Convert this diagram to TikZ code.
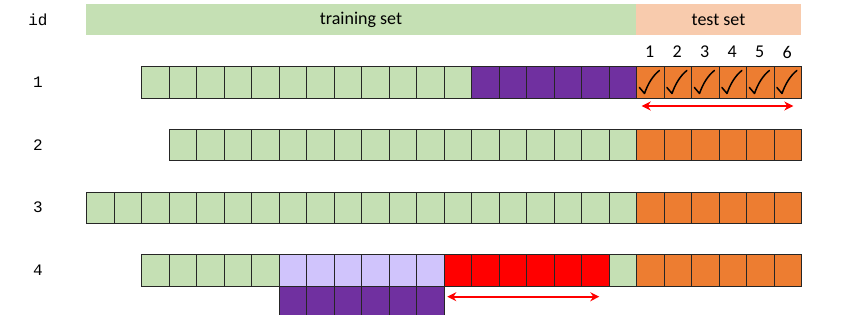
\documentclass[tikz,border=0pt]{standalone}
\usepackage{fontspec}
\setmainfont{Carlito}
\setmonofont{Liberation Mono}
\usetikzlibrary{arrows.meta}
\definecolor{verdeCelda}{HTML}{C5E0B4}
\definecolor{salmon}{HTML}{F8CBAD}
\definecolor{naranja}{HTML}{ED7D31}
\definecolor{morado}{HTML}{7030A0}
\definecolor{lila}{HTML}{D0C4FC}
\definecolor{rojo}{HTML}{FF0000}
\tikzset{
  celda/.style={draw=black!85,line width=.8pt,minimum width=27.5pt,
    minimum height=31.4pt,inner sep=0pt,anchor=north west},
  marca/.style={line width=1.5pt,line cap=round,line join=round},
  flecha/.style={rojo,line width=2pt,
    {Stealth[length=9pt,width=9pt]}-{Stealth[length=9pt,width=9pt]}},
  titulo/.style={font=\fontsize{18}{20}\selectfont},
  etiqueta/.style={font=\ttfamily\fontsize{16}{18}\selectfont}
}

\begin{document}
\begin{tikzpicture}[x=1pt,y=-1pt,>=Stealth]
  \useasboundingbox (0,0) rectangle (858,315);
  % cabecera
  \fill[verdeCelda] (86,4) rectangle (636,35);
  \fill[salmon] (636,4) rectangle (801,35);
  \node[titulo] (train) at (361,19.5) {training set};
  \node[titulo] (test) at (718.5,19.5) {test set};
  \node[etiqueta] (id) at (38,19.5) {id};
  \foreach \i in {1,...,6}
    \node[titulo] (num\i) at ({86+27.5*(19+\i)+13.75},52) {\i};
  % fila 1
  \node[etiqueta] (id1) at (38,82.2) {1};
  \foreach \c in {2,...,13}
    \node[celda,fill=verdeCelda] (f1-\c) at ({86+27.5*\c},66.5) {};
  \foreach \c in {14,...,19}
    \node[celda,fill=morado] (f1-\c) at ({86+27.5*\c},66.5) {};
  \foreach \c in {20,...,25}{
    \node[celda,fill=naranja] (f1-\c) at ({86+27.5*\c},66.5) {};
    \begin{scope}[shift={(f1-\c.north west)}]
      \draw[marca] (3.4,21) -- (8.5,27) .. controls (12,17) and (17,9) .. (23.4,4);
    \end{scope}
  }
  \coordinate (i1) at (641.7,106);
  \coordinate (d1) at (793.3,106);
  \draw[flecha] (i1) -- (d1);
  % fila 2
  \node[etiqueta] (id2) at (38,144.8) {2};
  \foreach \c in {3,...,19}
    \node[celda,fill=verdeCelda] (f2-\c) at ({86+27.5*\c},129.1) {};
  \foreach \c in {20,...,25}
    \node[celda,fill=naranja] (f2-\c) at ({86+27.5*\c},129.1) {};
  % fila 3
  \node[etiqueta] (id3) at (38,207.4) {3};
  \foreach \c in {0,...,19}
    \node[celda,fill=verdeCelda] (f3-\c) at ({86+27.5*\c},191.7) {};
  \foreach \c in {20,...,25}
    \node[celda,fill=naranja] (f3-\c) at ({86+27.5*\c},191.7) {};
  % fila 4
  \node[etiqueta] (id4) at (38,270) {4};
  \foreach \c in {2,...,6,19}
    \node[celda,fill=verdeCelda] (f4-\c) at ({86+27.5*\c},254.3) {};
  \foreach \c in {7,...,12}{
    \node[celda,fill=lila] (f4-\c) at ({86+27.5*\c},254.3) {};
    \node[celda,fill=morado] (g4-\c) at ({86+27.5*\c},285.7) {};
  }
  \foreach \c in {13,...,18}
    \node[celda,fill=rojo] (f4-\c) at ({86+27.5*\c},254.3) {};
  \foreach \c in {20,...,25}
    \node[celda,fill=naranja] (f4-\c) at ({86+27.5*\c},254.3) {};
  \coordinate (i4) at (447.3,296.7);
  \coordinate (d4) at (599.3,296.7);
  \draw[flecha] (i4) -- (d4);
\end{tikzpicture}
\end{document}
